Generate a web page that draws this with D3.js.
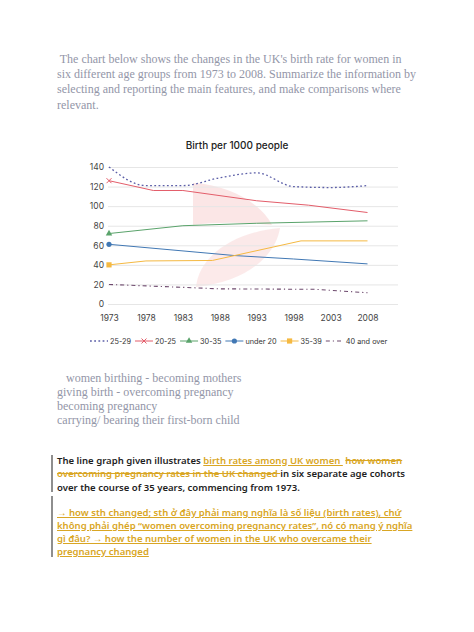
<!DOCTYPE html>
<html>
<head>
<meta charset="utf-8">
<script src="https://cdn.jsdelivr.net/npm/d3@7"></script>
<style>
  html, body { margin: 0; padding: 0; background: #fff; }
  body { width: 474px; height: 632px; position: relative; overflow: hidden; }
  .line { position: absolute; white-space: pre; }
  .serif { font-family: "Liberation Serif", "DejaVu Serif", serif; font-size: 12px; color: #9396a8; }
  .note { font-family: "Noto Sans", sans-serif; font-size: 9.55px; font-weight: 600; color: #1e1e1e; }
  .gold { color: #d9a624; }
  .ul { text-decoration: underline; text-decoration-color: #d9a624; text-underline-offset: 1px; }
  .st { text-decoration: line-through; text-decoration-color: #d9a624; }
  .bar { position: absolute; left: 51px; width: 1.5px; background: #8e8e8e; }
  svg { position: absolute; left: 0; top: 0; }
  svg text { font-family: Inter, "Noto Sans", sans-serif; }
</style>
</head>
<body>
<script>

  /* -----------------------
      DATA
   -------------------------- */

  var tickYears = [1973, 1978, 1983, 1988, 1993, 1998, 2003, 2008];
  var tickRates = [0, 20, 40, 60, 80, 100, 120, 140];

  var years2529 = [1973, 1978, 1983, 1988, 1993, 1998, 2003, 2008];
  var rate2529 = [140, 121, 121, 129, 134, 120, 119, 121];

  var years2025 = [1973, 1979, 1983, 1993, 2000, 2008];
  var rate2025 = [126, 116, 116, 105.5, 101, 93.5];

  var years3035 = [1973, 1983, 1993, 2008];
  var rate3035 = [72, 80, 82.5, 85];

  var yearsU20 = [1973, 1990, 1998, 2008];
  var rateU20 = [61, 49.5, 46, 41];

  var years3539 = [1973, 1978, 1987, 1999, 2008];
  var rate3539 = [40, 44, 44.5, 64.5, 64.5];

  var years40 = [1973, 1988, 2001, 2008];
  var rate40 = [20, 15.5, 15, 11.5];

  var chartTitle = 'Birth per 1000 people';

  //-- TEXT OF THE PAGE
  var promptLines = [
    " The chart below shows the changes in the UK's birth rate for women in",
    "six different age groups from 1973 to 2008. Summarize the information by",
    "selecting and reporting the main features, and make comparisons where",
    "relevant."
  ];
  var wordLines = [
    "   women birthing - becoming mothers",
    "giving birth - overcoming pregnancy",
    "becoming pregnancy",
    "carrying/ bearing their first-born child"
  ];
  var answerLines = [
    [["The line graph given illustrates ", ""], ["birth rates among UK women ", "gold ul"], [" ", ""], ["how women", "gold st"]],
    [["overcoming pregnancy rates in the UK changed ", "gold st"], ["in six separate age cohorts", ""]],
    [["over the course of 35 years, commencing from 1973.", ""]]
  ];
  var feedbackLines = [
    "\u2192 how sth changed; sth ở đây phải mang nghĩa là số liệu (birth rates), chứ",
    "không phải ghép \u201cwomen overcoming pregnancy rates\u201d, nó có mang ý nghĩa",
    "gì đâu? \u2192 how the number of women in the UK who overcame their",
    "pregnancy changed"
  ];

  /* -----------------------
      SERIES STYLES
   -------------------------- */
  var series = [
    { name: '25-29', years: years2529, rates: rate2529, color: '#5c5fa8', dash: '1.8,2.4', width: 1.3, marker: null, curve: d3.curveMonotoneX },
    { name: '20-25', years: years2025, rates: rate2025, color: '#e35d6a', dash: null, width: 1, marker: 'cross', curve: d3.curveLinear },
    { name: '30-35', years: years3035, rates: rate3035, color: '#5aa36b', dash: null, width: 1, marker: 'triangle', curve: d3.curveLinear },
    { name: 'under 20', years: yearsU20, rates: rateU20, color: '#4178b4', dash: null, width: 1, marker: 'circle', curve: d3.curveLinear },
    { name: '35-39', years: years3539, rates: rate3539, color: '#f5b942', dash: null, width: 1, marker: 'square', curve: d3.curveLinear },
    { name: '40 and over', years: years40, rates: rate40, color: '#6e4a6e', dash: '4,3,1.2,3', width: 1.1, marker: null, curve: d3.curveLinear }
  ];

  var body = d3.select('body');

  /* -----------------------
      TEXT BLOCKS
   -------------------------- */
  function textBlock(lines, top, left, lh, cls) {
    body.selectAll(null)
      .data(lines)
      .enter()
      .append('div')
      .attr('class', 'line ' + cls)
      .style('top', function(d, i) { return (top + i * lh) + 'px'; })
      .style('left', left + 'px')
      .style('line-height', lh + 'px')
      .each(function(d) {
        var div = d3.select(this);
        if (typeof d === 'string') {
          div.text(d);
        } else {
          d.forEach(function(seg) {
            div.append('span').attr('class', seg[1]).text(seg[0]);
          });
        }
      });
  }

  textBlock(promptLines, 52, 57, 15.2, 'serif');
  textBlock(wordLines, 370.5, 57, 14.3, 'serif');
  textBlock(answerLines, 453.5, 57, 13.6, 'note');
  textBlock(feedbackLines, 506, 57, 13, 'note gold ul');

  body.append('div').attr('class', 'bar').style('top', '455px').style('height', '37px');
  body.append('div').attr('class', 'bar').style('top', '496px').style('height', '61px');

  /* -----------------------
      CHART
   -------------------------- */
  var svg = body.append('svg')
    .attr('width', 474)
    .attr('height', 632);

  var gridLeft = 108, gridRight = 398;

  var x = d3.scaleLinear().domain([1973, 2008]).range([109, 367.5]);
  var y = d3.scaleLinear().domain([0, 140]).range([304, 167]);

  //-- WATERMARK
  var wm = svg.append('g').attr('opacity', 0.28);
  wm.append('path')
    .attr('d', 'M193,183 C232,185 262,205 272,225 C245,222 214,222 193,225 Z')
    .attr('fill', '#f2a9a9');
  wm.append('path')
    .attr('d', 'M196,287 C199,256 234,232 280,228 C275,258 244,282 196,287 Z')
    .attr('fill', '#f4b4b4');

  //-- GRID
  var gridY = svg.append('g')
    .attr('transform', 'translate(' + gridLeft + ',0)')
    .call(d3.axisLeft(y).tickValues(tickRates).tickSize(-(gridRight - gridLeft)).tickFormat(''));
  gridY.select('.domain').remove();
  gridY.selectAll('line').attr('stroke', '#e6e6e6').attr('stroke-width', 1);

  //-- AXES LABELS
  var axisY = svg.append('g')
    .attr('transform', 'translate(104,0)')
    .call(d3.axisLeft(y).tickValues(tickRates).tickSize(0).tickPadding(0));
  axisY.select('.domain').remove();
  axisY.selectAll('text')
    .attr('font-family', 'Inter, "Noto Sans", sans-serif')
    .attr('font-size', 8.5)
    .attr('fill', '#444');

  var axisX = svg.append('g')
    .attr('transform', 'translate(0,312)')
    .call(d3.axisBottom(x).tickValues(tickYears).tickFormat(d3.format('d')).tickSize(0).tickPadding(3));
  axisX.select('.domain').remove();
  axisX.selectAll('text')
    .attr('font-family', 'Inter, "Noto Sans", sans-serif')
    .attr('font-size', 8.5)
    .attr('fill', '#444');

  //-- TITLE
  svg.append('text')
    .attr('x', 237)
    .attr('y', 148.5)
    .attr('text-anchor', 'middle')
    .attr('font-size', 10)
    .attr('font-weight', 500)
    .attr('fill', '#222')
    .text(chartTitle);

  //-- LINES
  series.forEach(function(s) {
    var pts = s.years.map(function(yr, i) { return [yr, s.rates[i]]; });
    var lineFunc = d3.line()
      .x(function(d) { return x(d[0]); })
      .y(function(d) { return y(d[1]); })
      .curve(s.curve);
    svg.append('path')
      .datum(pts)
      .attr('d', lineFunc)
      .attr('fill', 'none')
      .attr('stroke', s.color)
      .attr('stroke-width', s.width)
      .attr('stroke-dasharray', s.dash);
    if (s.marker) {
      drawMarker(svg, s.marker, x(pts[0][0]), y(pts[0][1]), s.color);
    }
  });

  function drawMarker(g, type, cx, cy, color) {
    if (type === 'circle') {
      g.append('circle').attr('cx', cx).attr('cy', cy).attr('r', 2.6).attr('fill', color);
    } else if (type === 'square') {
      g.append('rect').attr('x', cx - 2.6).attr('y', cy - 2.6).attr('width', 5.2).attr('height', 5.2).attr('fill', color);
    } else if (type === 'triangle') {
      g.append('path').attr('d', d3.symbol().type(d3.symbolTriangle).size(18)).attr('transform', 'translate(' + cx + ',' + cy + ')').attr('fill', color);
    } else if (type === 'cross') {
      g.append('path').attr('d', 'M-2.5,-2.5L2.5,2.5M-2.5,2.5L2.5,-2.5').attr('transform', 'translate(' + cx + ',' + cy + ')').attr('stroke', color).attr('stroke-width', 1);
    }
  }

  //-- LEGEND
  var legend = svg.append('g').attr('transform', 'translate(90,341)');
  var lx = 0;
  series.forEach(function(s) {
    var item = legend.append('g').attr('transform', 'translate(' + lx + ',0)');
    item.append('line')
      .attr('x1', 0).attr('x2', 18).attr('y1', 0).attr('y2', 0)
      .attr('stroke', s.color)
      .attr('stroke-width', s.width)
      .attr('stroke-dasharray', s.dash);
    if (s.marker) drawMarker(item, s.marker, 9, 0, s.color);
    var t = item.append('text')
      .attr('x', 20)
      .attr('y', 2.7)
      .attr('font-size', 7.3)
      .attr('fill', '#333')
      .text(s.name);
    lx += 20 + t.node().getComputedTextLength() + 4;
  });

</script>
</body>
</html>
